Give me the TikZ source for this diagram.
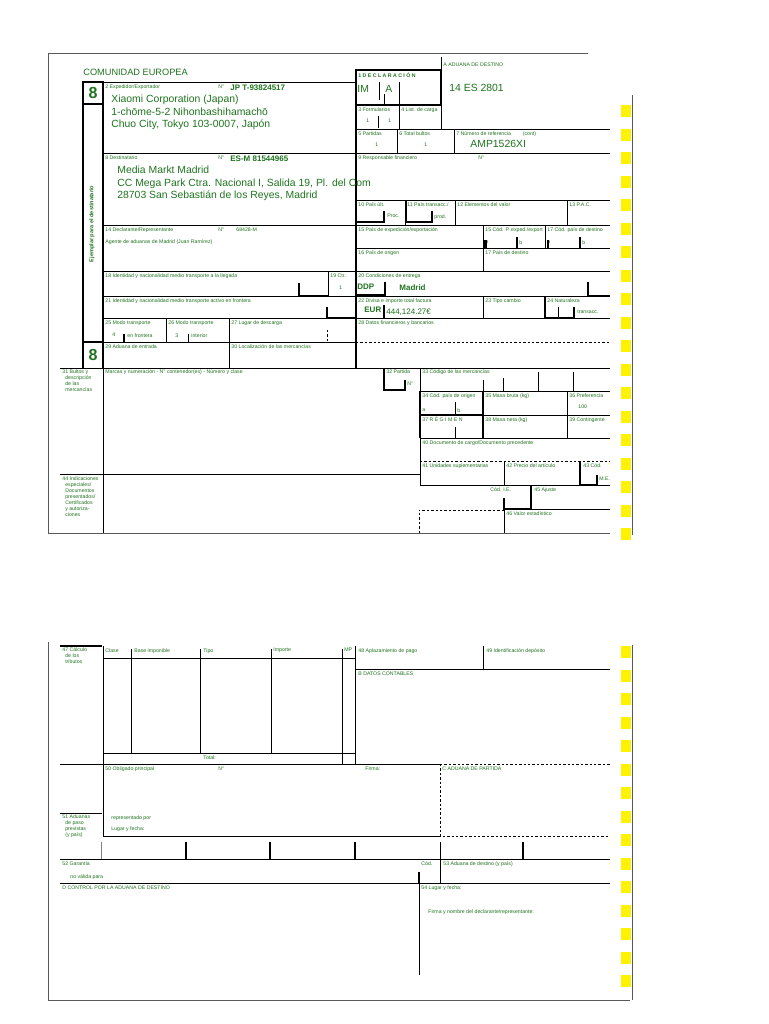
\documentclass[tikz,border=0pt]{standalone}
\usepackage{fontspec}
\setmainfont{Liberation Sans}
\definecolor{fg}{RGB}{30,115,30}
\tikzset{
 lab/.style={anchor=north west,inner sep=0pt,text=fg,font=\fontsize{2.6}{3}\selectfont,align=left},
 big/.style={anchor=north west,inner sep=0pt,text=fg,font=\fontsize{5.2}{6.2}\selectfont,align=left},
 mid/.style={anchor=north west,inner sep=0pt,text=fg,font=\bfseries\fontsize{4}{5}\selectfont},
 ln/.style={line width=0.5pt},
 tk/.style={line width=1.3pt},
 dsh/.style={line width=0.5pt,dash pattern=on 1.2pt off 1pt},
 ysq/.style={fill=yellow,draw=none}
}
\newcommand\lb[4]{\node[lab] (#1) at (#2,#3) {#4};}
\begin{document}
\begin{tikzpicture}[x=0.5pt,y=-0.5pt]
\useasboundingbox (0,0) rectangle (768,1024);
% ===== page 1 frame
\draw[ln,gray!70!black] (48,53) -- (588,53);
\draw[ln,gray!70!black] (48,53) -- (48,533) -- (610,533);
\draw[ln,gray!70!black] (632,95) -- (632,535);
\foreach \i in {0,...,18} \fill[ysq] (621,{105+23.5*\i}) rectangle (631,{117+23.5*\i});
% ===== page 2 frame
\draw[ln,gray!70!black] (48,642) -- (48,1000) -- (630,1000);
\draw[ln,gray!70!black] (632,645) -- (632,1000);
\foreach \i in {0,...,14} \fill[ysq] (621,{646+23.5*\i}) rectangle (631,{658+23.5*\i});

% ===== left column
\node[big,font=\fontsize{4.6}{5}\selectfont] (ce) at (83,69) {COMUNIDAD EUROPEA};
\draw[tk] (83,82) rectangle (103,104);
\node[text=fg,font=\bfseries\fontsize{8}{8}\selectfont] (e1) at (93,93) {8};
\draw[tk] (83,104) -- (83,368);
\draw[tk] (103,82) -- (103,368);
\draw[tk] (83,342) -- (103,342);
\node[text=fg,font=\bfseries\fontsize{8}{8}\selectfont] (e3) at (93,355) {8};
\node[text=fg,font=\bfseries\fontsize{2.8}{3}\selectfont,rotate=90] (ej) at (92,224) {Ejemplar para el destinatario};
% main left block lines
\draw[ln] (103,82) -- (356,82);
\foreach \y in {153,225,271,296,318,342} \draw[ln] (103,\y) -- (356,\y);
\draw[tk] (356,70) -- (356,368);
\draw[ln] (328,271) -- (328,296);
\draw[ln] (166,318) -- (166,342);
\draw[ln] (229,318) -- (229,368);
\draw[tk] (299,283) -- (299,296) -- (328,296);
\draw[tk] (327,307) -- (327,318) -- (356,318);
\draw[tk] (124,334) -- (124,342);
\draw[ln] (188,334) -- (188,342);
\draw[dsh] (327,330) -- (327,342);
\lb{l2}{105}{84}{2 Expedidor/Exportador}
\lb{n2}{218}{84}{N\textdegree}
\node[mid] (jp) at (230,84.5) {JP T-93824517};
\node[big] (xi) at (111,95) {Xiaomi Corporation (Japan)\\1-ch\=ome-5-2 Nihonbashihamach\=o\\Chuo City, Tokyo 103-0007, Jap\'on};
\lb{l8}{105}{155}{8 Destinatario}
\lb{n8}{218}{155}{N\textdegree}
\node[mid] (es) at (230,155.5) {ES-M 81544965};
\node[big] (mm) at (117,166) {Media Markt Madrid\\CC Mega Park Ctra. Nacional I, Salida 19, Pl. del Com\\28703 San Sebasti\'an de los Reyes, Madrid};
\lb{l14}{105}{227}{14 Declarante/Representante}
\lb{n14}{218}{227}{N\textdegree}
\lb{v14}{236}{227}{68428-M}
\lb{a14}{105}{239}{Agente de aduanas de Madrid (Juan Ram\'irez)}
\lb{l18}{105}{273}{18 Identidad y nacionalidad medio transporte a la llegada}
\lb{l19}{330}{273}{19 Ctr.}
\lb{v19}{339}{286}{1}
\lb{l21}{105}{298}{21 Identidad y nacionalidad medio transporte activo en frontera}
\lb{l25}{105}{320}{25 Modo transporte}
\lb{l26}{168}{320}{26 Modo transporte}
\lb{l27}{231}{320}{27 Lugar de descarga}
\lb{v25}{112}{333}{4}
\lb{f25}{127}{333}{en frontera}
\lb{v26}{175}{333}{3}
\lb{f26}{191}{333}{interior}
\lb{l29}{105}{344}{29 Aduana de entrada}
\lb{l30}{231}{344}{30 Localizaci\'on de las mercanc\'ias}

% ===== right block
\draw[tk] (356,70) rectangle (441,105);
\draw[ln] (441,57) -- (441,129);
\draw[ln] (379,82) -- (379,100);
\draw[ln] (399,82) -- (399,129);
\draw[ln] (384,94) -- (384,105);
\node[lab,font=\bfseries\fontsize{2.6}{3}\selectfont] (l1) at (358,72) {1 D E C L A R A C I \'O N};
\node[big] (im) at (357,85) {IM};
\node[big] (aa) at (385,85) {A};
\lb{lA}{443}{62}{A ADUANA DE DESTINO}
\node[big] (dst) at (449,84) {14 ES 2801};
\lb{l3}{358}{107}{3 Formularios}
\lb{l4}{401}{107}{4 List. de carga}
\lb{f31}{366}{119}{1}
\draw[ln] (378,116) -- (378,128);
\lb{f32}{388}{119}{1}
\draw[ln] (356,129) -- (610,129);
\draw[ln] (397,129) -- (397,153);
\draw[ln] (454,129) -- (454,153);
\lb{l5}{358}{131}{5 Partidas}
\lb{l6}{399}{131}{6 Total bultos}
\lb{l7}{456}{131}{7 N\'umero de referencia \quad\quad (cont)}
\lb{v5}{375}{143}{1}
\lb{v6}{424}{143}{1}
\node[big] (amp) at (470,140) {AMP1526XI};
\draw[ln] (356,153) -- (610,153);
\lb{l9}{358}{155}{9 Responsable financiero}
\lb{n9}{478}{155}{N\textdegree}
\draw[ln] (356,200) -- (610,200);
\draw[ln] (405,200) -- (405,225);
\draw[ln] (455,200) -- (455,225);
\draw[ln] (567,200) -- (567,225);
\draw[tk] (356,200) -- (356,222) -- (384,222) -- (384,211);
\draw[tk] (406,200) -- (406,222) -- (432,222) -- (432,211);
\lb{l10}{358}{202}{10 Pa\'is \'ult.}
\lb{l11}{407}{202}{11 Pa\'is transacc./}
\lb{l12}{457}{202}{12 Elementos del valor}
\lb{l13}{569}{202}{13 P.A.C.}
\lb{p10}{387}{214}{Proc.}
\lb{p11}{434}{214}{prod.}
\draw[ln] (356,225) -- (610,225);
\draw[ln] (483,225) -- (483,271);
\draw[ln] (545,225) -- (545,248);
\lb{l15}{358}{227}{15 Pa\'is de expedici\'on/exportaci\'on}
\lb{l15a}{485}{227}{15 C\'od. P. exped./export}
\lb{l17a}{547}{227}{17 C\'od. pa\'is de destino}
\lb{a15}{485}{240}{a}
\draw[tk] (485.5,240) -- (485.5,248);
\draw[tk] (517,237) -- (517,248);
\lb{b15}{519}{240}{b}
\lb{a17}{547}{240}{a}
\draw[tk] (548,240) -- (548,248);
\draw[tk] (580,237) -- (580,248);
\lb{b17}{582}{240}{b}
\draw[ln] (356,248) -- (610,248);
\lb{l16}{358}{250}{16 Pa\'is de origen}
\lb{l17}{485}{250}{17 Pa\'is de destino}
\draw[ln] (356,271) -- (610,271);
\lb{l20}{358}{273}{20 Condiciones de entrega}
\node[mid] (ddp) at (357,284) {DDP};
\draw[tk] (356,295) -- (385,295) -- (385,282);
\node[mid] (mad) at (399,284) {Madrid};
\draw[tk] (588,282) -- (588,296) -- (610,296);
\draw[ln] (356,296) -- (610,296);
\draw[ln] (483,296) -- (483,318);
\lb{l22}{358}{298}{22 Divisa e importe total factura}
\lb{l23}{485}{298}{23 Tipo cambio}
\lb{l24}{547}{298}{24 Naturaleza}
\node[mid] (eur) at (364,307) {EUR};
\draw[tk] (384,305) -- (384,318);
\node[mid,font=\fontsize{4}{5}\selectfont] (amt) at (386,309) {444,124.27\texteuro};
\draw[tk] (545,296) -- (545,318) -- (574,318) -- (574,307);
\draw[ln] (558,307) -- (558,318);
\lb{tr}{577}{310}{transacc.}
\draw[ln] (356,318) -- (610,318);
\lb{l28}{358}{320}{28 Datos financieros y bancarios}
\draw[dsh] (356,342) -- (610,342);
\draw[ln] (60,368) -- (610,368);

% ===== lower part page 1
\lb{l31}{62}{369}{31 Bultos y\\ \ \ descripci\'on\\ \ \ de las\\ \ \ mercanc\'ias}
\draw[ln] (103,368) -- (103,533);
\lb{mk}{105}{369}{Marcas y numeraci\'on - N\textdegree\ contenedor(es) - N\'umero y clase}
\draw[ln] (60,474) -- (420,474);
\lb{l44}{62}{476}{44 Indicaciones\\ \ \ especiales/\\ \ \ Documentos\\ \ \ presentados/\\ \ \ Certificados\\ \ \ y autoriza-\\ \ \ ciones}
\draw[tk] (384,368) -- (384,390) -- (405,390) -- (405,380);
\lb{l32}{386}{369}{32 Partida}
\lb{n32}{407}{381}{N\textdegree}
\draw[ln] (420,368) -- (420,485);
\lb{l33}{422}{369}{33 C\'odigo de las mercanc\'ias}
\foreach \x/\t in {483/380,503/378,538/372,573/372} \draw[ln] (\x,\t) -- (\x,391);
\draw[ln] (420,391) -- (610,391);
\draw[ln] (567,391) -- (567,438);
\lb{l34}{422}{393}{34 C\'od. pa\'is de origen}
\lb{l35}{485}{393}{35 Masa bruta (kg)}
\lb{l36}{569}{393}{36 Preferencia}
\lb{v36}{578}{404}{100}
\lb{a34}{422}{408}{a}
\draw[ln] (455,402) -- (455,415);
\lb{b34}{457}{408}{b}
\draw[ln] (483,415) -- (610,415);
\draw[tk] (420,391) -- (420,438);
\draw[tk] (483,391) -- (483,438);
\draw[tk] (420,415) -- (483,415);
\lb{l37}{422}{417}{37 R \'E G I M E N}
\lb{l38}{485}{417}{38 Masa neta (kg)}
\lb{l39}{569}{417}{39 Contingente}
\draw[ln] (455,427) -- (455,438);
\draw[ln] (420,438) -- (610,438);
\lb{l40}{422}{440}{40 Documento de cargo/Documento precedente}
\draw[dsh] (420,461) -- (610,461);
\lb{l41}{422}{463}{41 Unidades suplementarias}
\draw[ln] (504,461) -- (504,485);
\lb{l42}{506}{463}{42 Precio del art\'iculo}
\draw[tk] (580,461) -- (580,485) -- (597,485) -- (597,475);
\lb{l43}{583}{463}{43 C\'od.}
\lb{me}{599}{477}{M.E.}
\draw[ln] (420,485) -- (610,485);
\lb{ci}{490}{487}{C\'od. I.E.}
\draw[tk] (531,485) -- (531,509);
\lb{l45}{534}{487}{45 Ajuste}
\draw[tk] (504,498) -- (504,509) -- (531,509);
\draw[ln] (531,509) -- (610,509);
\draw[ln] (504,509) -- (504,533);
\lb{l46}{506}{511}{46 Valor estad\'istico}
\draw[dsh] (504,510) -- (419,510) -- (419,533);

% ===== page 2
\draw[tk] (60,646) -- (102,646);
\lb{l47}{62}{647}{47 C\'alculo\\ \ \ de los\\ \ \ tributos}
\draw[ln] (103,646) -- (103,836);
\draw[ln] (103,658) -- (355,658);
\foreach \x in {131,200,271} \draw[ln] (\x,649) -- (\x,753);
\draw[ln] (342,649) -- (342,764);
\draw[ln] (355,646) -- (355,764);
\lb{hc}{105}{648}{Clase}
\lb{hb}{134}{648}{Base imponible}
\lb{ht}{203}{648}{Tipo}
\lb{hi}{273}{648}{Importe}
\lb{hm}{344}{648}{MP}
\lb{l48}{358}{648}{48 Aplazamiento de pago}
\draw[ln] (483,646) -- (483,669);
\lb{l49}{486}{648}{49 Identificaci\'on dep\'osito}
\draw[ln] (355,669) -- (610,669);
\lb{lB}{358}{671}{B DATOS CONTABLES}
\draw[ln] (103,753) -- (355,753);
\lb{tot}{203}{755}{Total:}
\draw[ln] (60,764) -- (440,764);
\draw[dsh] (440,764) -- (610,764);
\lb{l50}{105}{766}{50 Obligado principal}
\lb{n50}{218}{766}{N\textdegree}
\lb{fi}{365}{766}{Firma:}
\lb{lC}{442}{766}{C ADUANA DE PARTIDA}
\draw[dsh] (440,764) -- (440,836) -- (610,836);
\draw[ln] (60,813) -- (102,813);
\lb{l51}{62}{814}{51 Aduanas\\ \ \ de paso\\ \ \ previstas\\ \ \ (y pa\'is)}
\lb{rp}{111}{815}{representado por}
\lb{lf}{111}{826}{Lugar y fecha:}
\draw[ln] (103,836) -- (440,836);
\draw[ln,gray] (101,842) -- (101,859);
\foreach \x in {186,270,355} \draw[tk] (\x,842) -- (\x,859);
\draw[ln] (440,842) -- (440,859);
\draw[tk] (523,842) -- (523,859);
\draw[ln] (60,859) -- (610,859);
\lb{l52}{62}{861}{52 Garant\'ia}
\lb{nv}{70}{874}{no v\'alida para}
\lb{cod}{421}{861}{C\'od.}
\draw[ln] (440,859) -- (440,883);
\lb{l53}{443}{861}{53 Aduana de destino (y pa\'is)}
\draw[tk] (419,872) -- (419,883);
\draw[ln] (60,883) -- (610,883);
\draw[ln] (419,883) -- (419,975);
\lb{lD}{62}{885}{D CONTROL POR LA ADUANA DE DESTINO}
\lb{l54}{421}{885}{54 Lugar y fecha:}
\lb{fn}{428}{909}{Firma y nombre del declarante/representante:}
\end{tikzpicture}
\end{document}
